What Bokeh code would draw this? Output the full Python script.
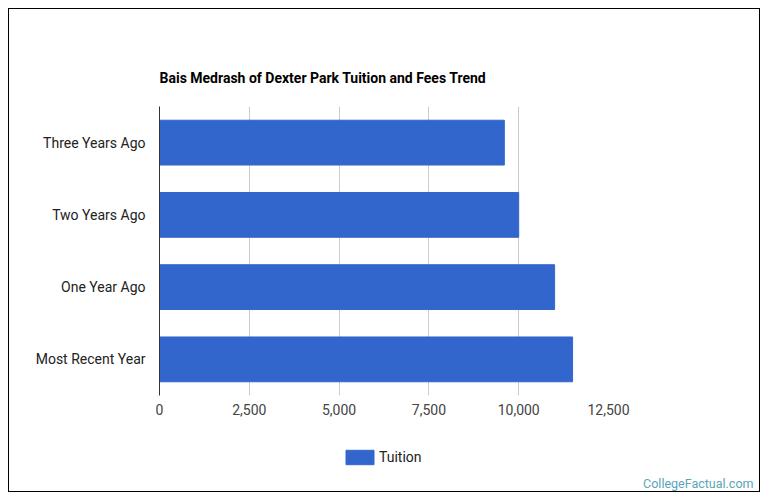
from bokeh.plotting import figure
from bokeh.layouts import column
from bokeh.models import (Range1d, FactorRange, Legend, LegendItem, Title,
                          NumeralTickFormatter, FixedTicker, ColumnDataSource)
from bokeh.embed import file_html
from bokeh.resources import INLINE

title = "Bais Medrash of Dexter Park Tuition and Fees Trend"
categories = ["Three Years Ago", "Two Years Ago", "One Year Ago", "Most Recent Year"]
tuition = [9600, 10000, 11000, 11500]
x_ticks = [0, 2500, 5000, 7500, 10000, 12500]
series_name = "Tuition"
watermark = "CollegeFactual.com"

FONT = "Roboto"
BAR = "#3366cc"
W = 750
H_MAIN = 416
H_FOOT = 66

src = ColumnDataSource(dict(cat=categories, val=tuition))

# ---------------- main chart ----------------
p = figure(
    width=W, height=H_MAIN,
    y_range=FactorRange(factors=list(reversed(categories))),
    x_range=Range1d(0, 12500),
    output_backend="svg", toolbar_location=None,
    min_border_left=150, min_border_right=151, min_border_top=97, min_border_bottom=30,
)
p.outline_line_color = None
p.background_fill_color = "white"
p.border_fill_color = "white"

r = p.hbar(y="cat", right="val", left=0, height=0.62, color=BAR, source=src)

p.title.text = title
p.title.text_font = FONT
p.title.text_font_size = "14px"
p.title.text_font_style = "bold"
p.title.text_color = "#000000"
p.title.align = "left"
p.title.standoff = 42

xa = p.xaxis[0]
xa.ticker = FixedTicker(ticks=x_ticks)
xa.formatter = NumeralTickFormatter(format="0,0")
xa.axis_line_color = None
xa.major_tick_line_color = None
xa.major_tick_out = 0
xa.major_tick_in = 0
xa.minor_tick_line_color = None
xa.minor_tick_out = 0
xa.major_label_text_font = FONT
xa.major_label_text_font_size = "14px"
xa.major_label_text_color = "#444444"
xa.major_label_standoff = 8

ya = p.yaxis[0]
ya.axis_line_color = "#333333"
ya.axis_line_width = 1
ya.major_tick_line_color = None
ya.major_tick_out = 0
ya.major_tick_in = 0
ya.minor_tick_line_color = None
ya.minor_tick_out = 0
ya.major_label_text_font = FONT
ya.major_label_text_font_size = "14px"
ya.major_label_text_color = "#222222"
ya.major_label_standoff = 14

p.xgrid.grid_line_color = "#cccccc"
p.ygrid.grid_line_color = None

# ---------------- footer: legend + credit ----------------
f = figure(
    width=W, height=H_FOOT,
    x_range=p.x_range, y_range=FactorRange(factors=list(reversed(categories))),
    output_backend="svg", toolbar_location=None, min_border=0,
)
f.axis.visible = False
f.grid.grid_line_color = None
f.outline_line_color = None
f.background_fill_color = "white"
f.border_fill_color = "white"

# same series, hidden here; it only provides the legend swatch
swatch = f.hbar(y="cat", right="val", left=0, height=0.62, color=BAR, source=src)
swatch.visible = False

legend = Legend(items=[LegendItem(label=series_name, renderers=[swatch])], location=(183, 6))
legend.padding = 0
legend.margin = 0
legend.border_line_alpha = 0
legend.background_fill_alpha = 0
legend.inactive_fill_alpha = 0
legend.glyph_width = 35
legend.glyph_height = 18
legend.label_height = 18
legend.label_standoff = 2
legend.label_text_font = FONT
legend.label_text_font_size = "14px"
legend.label_text_color = "#222222"
f.add_layout(legend, "center")

wm = Title(text=watermark, align="right", offset=-145, standoff=2,
           text_font=FONT, text_font_size="12.5px", text_font_style="normal",
           text_color="#5aa5b8")
f.add_layout(wm, "below")

layout = column(p, f, spacing=0)
layout.margin = (8, 8, 8, 8)
layout.styles = {"border": "1px solid #000"}

open("out.html", "w").write(file_html(layout, INLINE))
